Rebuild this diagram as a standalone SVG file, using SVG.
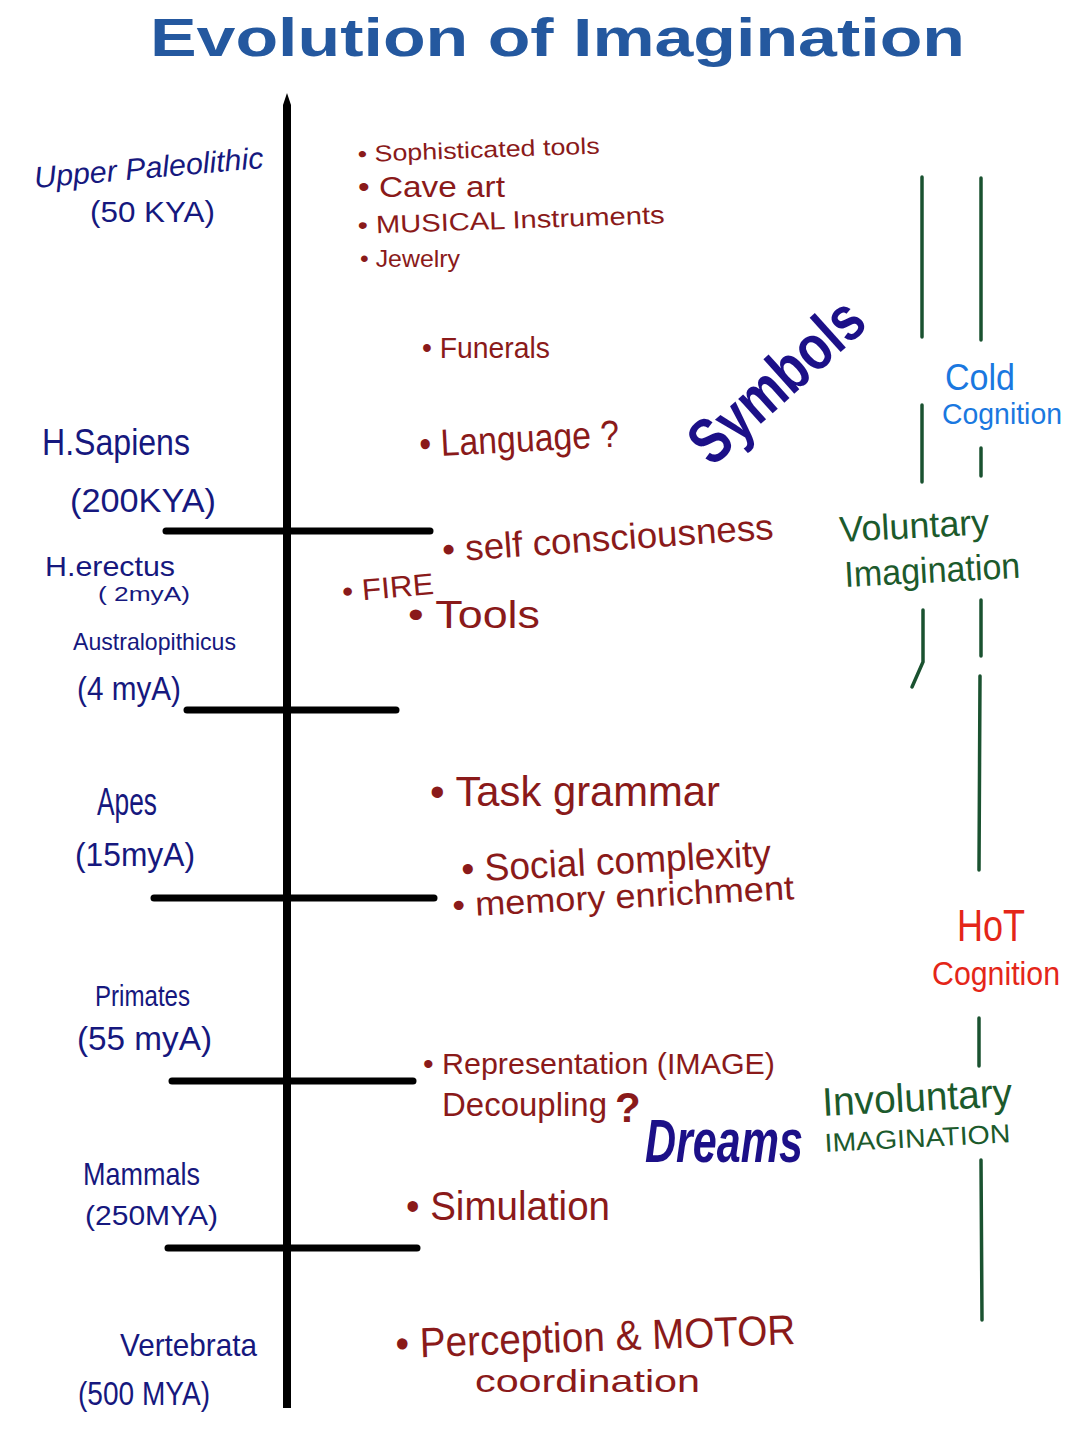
<svg xmlns="http://www.w3.org/2000/svg" width="1080" height="1440" viewBox="0 0 1080 1440">
<style>
text{font-family:"Liberation Sans","DejaVu Sans",sans-serif;}
.era{fill:#16187e;}
.ev{fill:#8a1a1a;}
.grn{fill:#1c5a2c;}
.tl{stroke:#000;stroke-width:7;stroke-linecap:round;fill:none;}
.gl{stroke:#1a5230;stroke-width:3.5;stroke-linecap:round;fill:none;}
.big{font-weight:bold;fill:#1c1088;}
</style>
<rect width="1080" height="1440" fill="#fff"/>
<g id="title"><text x="150" y="56" font-size="54" font-weight="bold" fill="#24589f" textLength="815" lengthAdjust="spacingAndGlyphs">Evolution of Imagination</text></g>
<g id="connectors">
<path d="M287 93 L291 105 L291 1408 L283 1408 L283 105 Z" fill="#000"/>
<line class="tl" x1="166" y1="531" x2="430" y2="531"/>
<line class="tl" x1="187" y1="710" x2="396" y2="710"/>
<line class="tl" x1="154" y1="898" x2="434" y2="898"/>
<line class="tl" x1="172" y1="1081" x2="413" y2="1081"/>
<line class="tl" x1="168" y1="1248" x2="417" y2="1248"/>
<line class="gl" x1="922" y1="177" x2="922" y2="337"/>
<line class="gl" x1="922" y1="405" x2="922" y2="482"/>
<path class="gl" d="M923 610 L923 662 L912 687"/>
<line class="gl" x1="981" y1="178" x2="981" y2="340"/>
<line class="gl" x1="981" y1="448" x2="981" y2="476"/>
<line class="gl" x1="981" y1="600" x2="981" y2="656"/>
<line class="gl" x1="980" y1="676" x2="979" y2="870"/>
<line class="gl" x1="979" y1="1018" x2="979" y2="1066"/>
<line class="gl" x1="981" y1="1160" x2="982" y2="1320"/>
</g>
<g id="upper-paleolithic">
<text class="era" x="35" y="188" font-size="30" font-style="italic" textLength="230" lengthAdjust="spacingAndGlyphs" transform="rotate(-5 35 188)">Upper Paleolithic</text>
<text class="era" x="90" y="222" font-size="30" textLength="125" lengthAdjust="spacingAndGlyphs">(50 KYA)</text>
</g>
<g id="h-sapiens">
<text class="era" x="42" y="455" font-size="36" textLength="148" lengthAdjust="spacingAndGlyphs">H.Sapiens</text>
<text class="era" x="70" y="512" font-size="34" textLength="146" lengthAdjust="spacingAndGlyphs">(200KYA)</text>
</g>
<g id="h-erectus">
<text class="era" x="45" y="576" font-size="28" textLength="130" lengthAdjust="spacingAndGlyphs">H.erectus</text>
<text class="era" x="98" y="601" font-size="21" textLength="92" lengthAdjust="spacingAndGlyphs">( 2myA)</text>
</g>
<g id="australopithicus">
<text class="era" x="73" y="650" font-size="24" textLength="163" lengthAdjust="spacingAndGlyphs">Australopithicus</text>
<text class="era" x="77" y="700" font-size="34" textLength="104" lengthAdjust="spacingAndGlyphs">(4 myA)</text>
</g>
<g id="apes">
<text class="era" x="97" y="815" font-size="38" textLength="60" lengthAdjust="spacingAndGlyphs">Apes</text>
<text class="era" x="75" y="866" font-size="34" textLength="120" lengthAdjust="spacingAndGlyphs">(15myA)</text>
</g>
<g id="primates">
<text class="era" x="95" y="1006" font-size="30" textLength="95" lengthAdjust="spacingAndGlyphs">Primates</text>
<text class="era" x="77" y="1050" font-size="34" textLength="135" lengthAdjust="spacingAndGlyphs">(55 myA)</text>
</g>
<g id="mammals">
<text class="era" x="83" y="1185" font-size="32" textLength="117" lengthAdjust="spacingAndGlyphs">Mammals</text>
<text class="era" x="85" y="1225" font-size="28" textLength="133" lengthAdjust="spacingAndGlyphs">(250MYA)</text>
</g>
<g id="vertebrata">
<text class="era" x="120" y="1356" font-size="32" textLength="137" lengthAdjust="spacingAndGlyphs">Vertebrata</text>
<text class="era" x="78" y="1405" font-size="34" textLength="132" lengthAdjust="spacingAndGlyphs">(500 MYA)</text>
</g>
<g id="upper-paleolithic-events">
<text class="ev" x="358" y="162" font-size="23" textLength="242" lengthAdjust="spacingAndGlyphs" transform="rotate(-2 358 162)">• Sophisticated tools</text>
<text class="ev" x="358" y="197" font-size="30" textLength="147" lengthAdjust="spacingAndGlyphs">• Cave art</text>
<text class="ev" x="358" y="234" font-size="25" textLength="307" lengthAdjust="spacingAndGlyphs" transform="rotate(-2 358 234)">• MUSICAL Instruments</text>
<text class="ev" x="360" y="267" font-size="24" textLength="100" lengthAdjust="spacingAndGlyphs">• Jewelry</text>
</g>
<g id="funerals"><text class="ev" x="422" y="358" font-size="30" textLength="128" lengthAdjust="spacingAndGlyphs">• Funerals</text></g>
<g id="language"><text class="ev" x="420" y="457" font-size="38" textLength="200" lengthAdjust="spacingAndGlyphs" transform="rotate(-3 420 457)">• Language ?</text></g>
<g id="self-consciousness"><text class="ev" x="443" y="562" font-size="36" textLength="332" lengthAdjust="spacingAndGlyphs" transform="rotate(-4 443 562)">• self consciousness</text></g>
<g id="fire"><text class="ev" x="343" y="602" font-size="30" textLength="92" lengthAdjust="spacingAndGlyphs" transform="rotate(-5 343 602)">• FIRE</text></g>
<g id="tools"><text class="ev" x="408" y="628" font-size="38" textLength="132" lengthAdjust="spacingAndGlyphs">• Tools</text></g>
<g id="task-grammar"><text class="ev" x="430" y="806" font-size="42" textLength="290" lengthAdjust="spacingAndGlyphs">• Task grammar</text></g>
<g id="social-complexity"><text class="ev" x="462" y="882" font-size="38" textLength="310" lengthAdjust="spacingAndGlyphs" transform="rotate(-3 462 882)">• Social complexity</text></g>
<g id="memory-enrichment"><text class="ev" x="453" y="917" font-size="34" textLength="342" lengthAdjust="spacingAndGlyphs" transform="rotate(-3 453 917)">• memory enrichment</text></g>
<g id="representation">
<text class="ev" x="423" y="1074" font-size="30" textLength="352" lengthAdjust="spacingAndGlyphs">• Representation (IMAGE)</text>
<text class="ev" x="442" y="1116" font-size="34" textLength="165" lengthAdjust="spacingAndGlyphs">Decoupling</text>
<text x="615" y="1122" font-size="42" font-weight="bold" fill="#8a1a1a">?</text>
</g>
<g id="simulation"><text class="ev" x="406" y="1220" font-size="40" textLength="204" lengthAdjust="spacingAndGlyphs">• Simulation</text></g>
<g id="perception">
<text class="ev" x="396" y="1358" font-size="42" textLength="400" lengthAdjust="spacingAndGlyphs" transform="rotate(-2 396 1358)">• Perception &amp; MOTOR</text>
<text class="ev" x="475" y="1392" font-size="32" textLength="225" lengthAdjust="spacingAndGlyphs">coordination</text>
</g>
<g id="symbols"><text class="big" x="712" y="468" font-size="64" textLength="212" lengthAdjust="spacingAndGlyphs" transform="rotate(-42 712 468)">Symbols</text></g>
<g id="dreams"><text class="big" x="645" y="1162" font-size="62" font-style="italic" fill="#2a1aa0" textLength="158" lengthAdjust="spacingAndGlyphs">Dreams</text></g>
<g id="cold-cognition">
<text x="945" y="390" font-size="36" fill="#1a78e0" textLength="70" lengthAdjust="spacingAndGlyphs">Cold</text>
<text x="942" y="424" font-size="30" fill="#1a78e0" textLength="120" lengthAdjust="spacingAndGlyphs">Cognition</text>
</g>
<g id="voluntary-imagination">
<text class="grn" x="840" y="542" font-size="36" textLength="150" lengthAdjust="spacingAndGlyphs" transform="rotate(-3 840 542)">Voluntary</text>
<text class="grn" x="845" y="587" font-size="36" textLength="176" lengthAdjust="spacingAndGlyphs" transform="rotate(-3 845 587)">Imagination</text>
</g>
<g id="hot-cognition">
<text x="957" y="941" font-size="44" fill="#e42618" textLength="68" lengthAdjust="spacingAndGlyphs">HoT</text>
<text x="932" y="985" font-size="33" fill="#e42618" textLength="128" lengthAdjust="spacingAndGlyphs">Cognition</text>
</g>
<g id="involuntary-imagination">
<text class="grn" x="823" y="1116" font-size="40" textLength="190" lengthAdjust="spacingAndGlyphs" transform="rotate(-3 823 1116)">Involuntary</text>
<text class="grn" x="825" y="1152" font-size="26" textLength="186" lengthAdjust="spacingAndGlyphs" transform="rotate(-3 825 1152)">IMAGINATION</text>
</g>
</svg>
